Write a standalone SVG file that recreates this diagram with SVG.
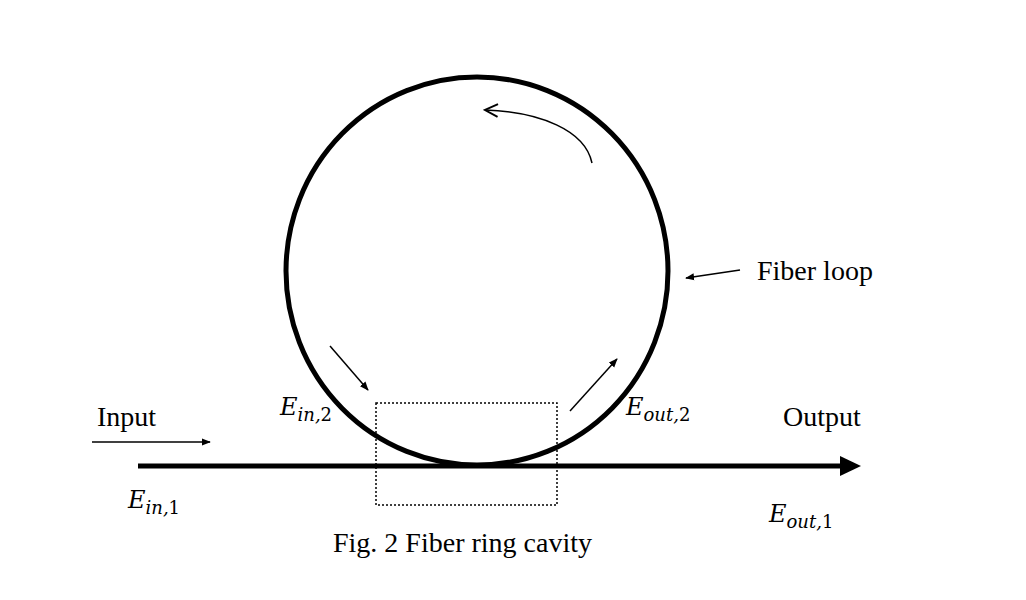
<svg xmlns="http://www.w3.org/2000/svg" width="1026" height="600" viewBox="0 0 1026 600">
<style>
.t{font-family:"Liberation Serif",serif;font-size:28px;fill:#000}
.m{font-family:"DejaVu Serif","Liberation Serif",serif;font-style:italic;font-size:24px;fill:#000}
.s{font-size:18px}
.thin{stroke:#000;stroke-width:1.5;fill:none}
</style>
<defs>
<marker id="a" viewBox="0 0 10 10" refX="9" refY="5" markerWidth="9" markerHeight="9" markerUnits="userSpaceOnUse" orient="auto"><path d="M0,1 L10,5 L0,9 z" fill="#000"/></marker>
<marker id="open" viewBox="0 0 10 10" refX="9" refY="5" markerWidth="16" markerHeight="16" markerUnits="userSpaceOnUse" orient="auto"><path d="M1,1 L9,5 L1,9" fill="none" stroke="#000" stroke-width="1.2"/></marker>
</defs>
<rect width="1026" height="600" fill="#fff"/>
<g id="loop"><ellipse cx="477" cy="271" rx="191" ry="194" fill="none" stroke="#000" stroke-width="5"/></g>
<g id="coupler"><rect x="376" y="403" width="181" height="102" fill="none" stroke="#000" stroke-width="1.5" stroke-dasharray="2,2"/></g>
<g id="connectors">
<line x1="138" y1="466" x2="845" y2="466" stroke="#000" stroke-width="5"/>
<path d="M840,456 L861,466 L840,476 z" fill="#000"/>
<path class="thin" d="M592,163 C585,130 540,112 485,110" marker-end="url(#open)"/>
<line class="thin" x1="330" y1="346" x2="368" y2="390" marker-end="url(#a)"/>
<line class="thin" x1="570" y1="411" x2="617" y2="359" marker-end="url(#a)"/>
<line class="thin" x1="740" y1="270" x2="686" y2="278" marker-end="url(#a)"/>
<line class="thin" x1="92" y1="442" x2="210" y2="442" marker-end="url(#a)"/>
</g>
<g id="labels">
<text class="t" x="97" y="426">Input</text>
<text class="t" x="783" y="426">Output</text>
<text class="t" x="757" y="280">Fiber loop</text>
<text class="t" x="333" y="552">Fig. 2 Fiber ring cavity</text>
<text class="m" x="280" y="415">E<tspan class="s" dy="6">in,</tspan><tspan class="s" font-style="normal">2</tspan></text>
<text class="m" x="626" y="415">E<tspan class="s" dy="6">out,</tspan><tspan class="s" font-style="normal">2</tspan></text>
<text class="m" x="128" y="508">E<tspan class="s" dy="6">in,</tspan><tspan class="s" font-style="normal">1</tspan></text>
<text class="m" x="769" y="522">E<tspan class="s" dy="6">out,</tspan><tspan class="s" font-style="normal">1</tspan></text>
</g>
</svg>
